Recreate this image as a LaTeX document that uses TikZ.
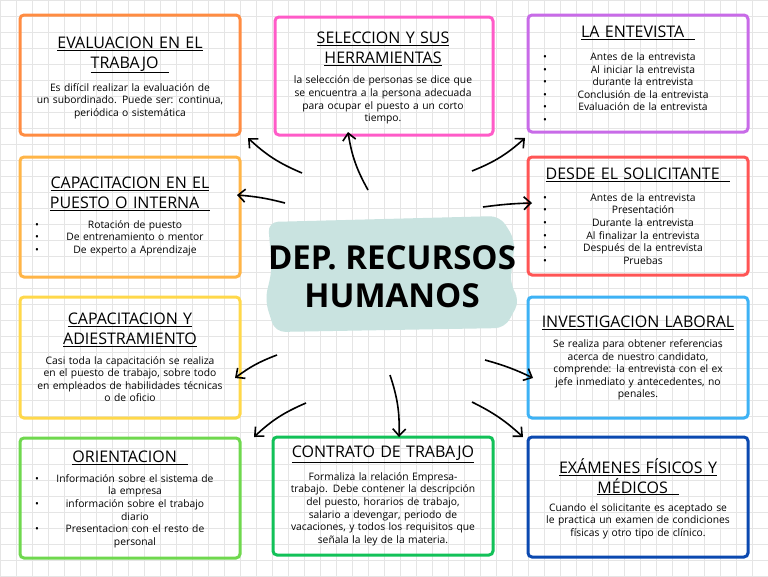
\documentclass[tikz,border=0pt]{standalone}
\usepackage{fontspec}
\setmainfont{Open Sans}
\usetikzlibrary{arrows.meta}
\definecolor{cOr}{HTML}{FF8C42}
\definecolor{cPk}{HTML}{FF5BC8}
\definecolor{cPu}{HTML}{C86BE8}
\definecolor{cYo}{HTML}{FFB547}
\definecolor{cRd}{HTML}{FF5555}
\definecolor{cYe}{HTML}{FFD84A}
\definecolor{cLb}{HTML}{3DB2F5}
\definecolor{cLg}{HTML}{6FD84E}
\definecolor{cGr}{HTML}{12C158}
\definecolor{cDb}{HTML}{0B49B0}
\definecolor{cTe}{HTML}{C9E3E0}
\tikzset{
 box/.style={draw=#1,line width=3pt,rounded corners=4pt},
 ttl/.style={font=\fontsize{16}{19.5}\selectfont,align=center,text width=215pt},
 txt/.style={font=\fontsize{10.3}{12.6}\selectfont,align=center,text width=240pt,inner sep=0pt},
 lst/.style={font=\fontsize{10.3}{12.6}\selectfont,align=left,text width=190pt,inner sep=0pt},
 arr/.style={line width=1.6pt,-{Straight Barb[length=7pt,width=13pt]}},
}
\newcommand{\bl}[1]{\makebox[10pt][l]{\textbullet}\makebox[180pt][c]{#1}\\}
\newcommand{\nb}[1]{\makebox[10pt][l]{}\makebox[180pt][c]{#1}\\}
\begin{document}
\begin{tikzpicture}[x=1pt,y=-1pt]
\useasboundingbox (0,0) rectangle (768,576);
\fill[white] (0,0) rectangle (768,576);
\draw[black!10,line width=0.5pt,step=16pt] (0,0) grid (768,576);
% center
\fill[cTe,rounded corners=10pt] (268,222) -- (500,216) -- (515,240) -- (510,285) -- (520,300) -- (505,328) -- (275,332) -- (265,300) -- (272,270) -- cycle;
\node[font=\fontsize{33}{38}\selectfont\bfseries,align=center] (c) at (392,277) {DEP. RECURSOS\\HUMANOS};
% boxes
\draw[box=cOr] (20,15) rectangle (240,135) node[pos=.5,inner sep=0] (b1) {};
\draw[box=cPk] (275,17) rectangle (493,135) node[pos=.5,inner sep=0] (b2) {};
\draw[box=cPu] (528,15) rectangle (748,132) node[pos=.5,inner sep=0] (b3) {};
\draw[box=cYo] (20,157) rectangle (240,277) node[pos=.5,inner sep=0] (b4) {};
\draw[box=cRd] (528,157) rectangle (748,275) node[pos=.5,inner sep=0] (b5) {};
\draw[box=cYe] (20,297) rectangle (240,418) node[pos=.5,inner sep=0] (b6) {};
\draw[box=cLb] (528,297) rectangle (748,418) node[pos=.5,inner sep=0] (b7) {};
\draw[box=cLg] (20,438) rectangle (240,558) node[pos=.5,inner sep=0] (b8) {};
\draw[box=cGr] (273,437) rectangle (493,555) node[pos=.5,inner sep=0] (b9) {};
\draw[box=cDb] (528,437) rectangle (748,557) node[pos=.5,inner sep=0] (b10) {};
% texts
\node[ttl] (t1) at (130,55) {\underline{EVALUACION EN EL}\\\underline{TRABAJO\ \ }};
\node[txt] (x1) at (130,101) {Es difícil realizar la evaluación de\\un subordinado. Puede ser: continua,\\periódica o sistemática};
\node[ttl] (t2) at (383,49) {\underline{SELECCION Y SUS}\\\underline{HERRAMIENTAS}};
\node[txt] (x2) at (383,100) {la selección de personas se dice que\\se encuentra a la persona adecuada\\para ocupar el puesto a un corto\\tiempo.};
\node[ttl] (t3) at (638,33) {\underline{LA ENTEVISTA\ \ }};
\node[lst] (x3) at (638,88) {\bl{Antes de la entrevista}\bl{Al iniciar la entrevista}\bl{durante la entrevista}\bl{Conclusión de la entrevista}\bl{Evaluación de la entrevista}\bl{}};
\node[ttl] (t4) at (130,194) {\underline{CAPACITACION EN EL}\\\underline{PUESTO O INTERNA\ \ }};
\node[lst] (x4) at (130,238) {\bl{Rotación de puesto}\bl{De entrenamiento o mentor}\bl{De experto a Aprendizaje}};
\node[ttl] (t5) at (638,175) {\underline{DESDE EL SOLICITANTE\ \ }};
\node[lst] (x5) at (638,229) {\bl{Antes de la entrevista}\bl{Presentación}\bl{Durante la entrevista}\bl{Al finalizar la entrevista}\bl{Después de la entrevista}\bl{Pruebas}};
\node[ttl] (t6) at (130,330) {\underline{CAPACITACION Y}\\\underline{ADIESTRAMIENTO}};
\node[txt] (x6) at (130,379) {Casi toda la capacitación se realiza\\en el puesto de trabajo, sobre todo\\en empleados de habilidades técnicas\\o de oficio};
\node[ttl] (t7) at (638,323) {\underline{INVESTIGACION LABORAL}};
\node[txt] (x7) at (638,370) {Se realiza para obtener referencias\\acerca de nuestro candidato,\\comprende: la entrevista con el ex\\jefe inmediato y antecedentes, no\\penales.};
\node[ttl] (t8) at (130,458) {\underline{ORIENTACION\ \ }};
\node[lst] (x8) at (130,511) {\bl{Información sobre el sistema de}\nb{la empresa}\bl{información sobre el trabajo}\nb{diario}\bl{Presentacion con el resto de}\nb{personal}};
\node[ttl] (t9) at (383,454) {\underline{CONTRATO DE TRABAJO}};
\node[txt] (x9) at (383,509) {Formaliza la relación Empresa-\\trabajo. Debe contener la descripción\\del puesto, horarios de trabajo,\\salario a devengar, periodo de\\vacaciones, y todos los requisitos que\\señala la ley de la materia.};
\node[ttl] (t10) at (638,477) {\underline{EXÁMENES FÍSICOS Y}\\\underline{MÉDICOS\ \ }};
\node[txt] (x10) at (638,521) {Cuando el solicitante es aceptado se\\le practica un examen de condiciones\\físicas y otro tipo de clínico.};
% arrows
\coordinate (s1) at (302,173); \coordinate (e1) at (248,138);
\coordinate (s2) at (368,190); \coordinate (e2) at (348,132);
\coordinate (s3) at (472,171); \coordinate (e3) at (525,138);
\coordinate (s4) at (285,203); \coordinate (e4) at (237,195);
\coordinate (s5) at (483,207); \coordinate (e5) at (532,203);
\coordinate (s6) at (277,355); \coordinate (e6) at (235,378);
\coordinate (s7) at (306,403); \coordinate (e7) at (254,437);
\coordinate (s8) at (390,375); \coordinate (e8) at (399,437);
\coordinate (s9) at (485,360); \coordinate (e9) at (533,378);
\coordinate (s10) at (472,402); \coordinate (e10) at (523,437);
\draw[arr] (s1) to[bend left=10] (e1);
\draw[arr] (s2) to[bend left=10] (e2);
\draw[arr] (s3) to[bend right=10] (e3);
\draw[arr] (s4) to[bend right=5] (e4);
\draw[arr] (s5) to[bend left=3] (e5);
\draw[arr] (s6) to[bend right=8] (e6);
\draw[arr] (s7) to[bend right=10] (e7);
\draw[arr] (s8) to[bend left=10] (e8);
\draw[arr] (s9) to[bend left=5] (e9);
\draw[arr] (s10) to[bend left=8] (e10);
\end{tikzpicture}
\end{document}
